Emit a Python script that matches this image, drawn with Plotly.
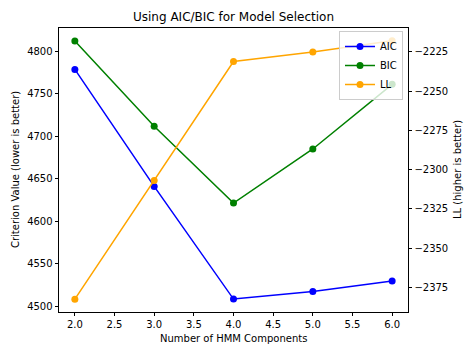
import plotly.graph_objects as go

components = [2, 3, 4, 5, 6]
aic_values = [4778.5, 4641, 4508.6, 4517.6, 4529.8]
bic_values = [4812, 4711.8, 4621.5, 4685, 4761]
ll_values = [-2382.6, -2307, -2231.1, -2225, -2217.9]

left_ticks = [4500, 4550, 4600, 4650, 4700, 4750, 4800]
right_ticks = [-2375, -2350, -2325, -2300, -2275, -2250, -2225]
x_ticks = [2.0, 2.5, 3.0, 3.5, 4.0, 4.5, 5.0, 5.5, 6.0]

FONT = "DejaVu Sans"
W, H = 474, 355
L, R, T, B = 59, 408, 28, 312
PW, PH = R - L, B - T


def px(xp):
    return (xp - L) / PW


def py(yp):
    return (B - yp) / PH


fig = go.Figure()
fig.add_trace(go.Scatter(x=components, y=aic_values, name="AIC", mode="lines+markers",
                         line=dict(color="blue", width=1.5), marker=dict(size=7, color="blue")))
fig.add_trace(go.Scatter(x=components, y=bic_values, name="BIC", mode="lines+markers",
                         line=dict(color="green", width=1.5), marker=dict(size=7, color="green")))
fig.add_trace(go.Scatter(x=components, y=ll_values, name="LL", mode="lines+markers", yaxis="y2",
                         line=dict(color="orange", width=1.5), marker=dict(size=7, color="orange")))

axis_common = dict(showline=True, linecolor="black", linewidth=0.8, ticks="outside", ticklen=3.5,
                   tickwidth=0.8, tickcolor="black", showgrid=False, zeroline=False,
                   tickfont=dict(family=FONT, size=10, color="black"))

fig.update_layout(
    width=W, height=H,
    margin=dict(l=L, r=W - R, t=T, b=H - B),
    paper_bgcolor="white", plot_bgcolor="white",
    font=dict(family=FONT, size=10, color="black"),
    xaxis=dict(**axis_common, range=[1.8, 6.2], tickvals=x_ticks, ticktext=[f"{v:.1f}" for v in x_ticks],
               mirror=True),
    yaxis=dict(**axis_common, range=[4493.4, 4827.2], tickvals=left_ticks, mirror=True),
    yaxis2=dict(**axis_common, range=[-2390.8, -2209.7], tickvals=right_ticks,
                ticktext=[f"\u2212{abs(v)}" for v in right_ticks],
                overlaying="y", side="right"),
    legend=dict(x=px(403), y=py(31), xanchor="right", yanchor="top", bgcolor="rgba(255,255,255,0.8)",
                bordercolor="#cccccc", borderwidth=1, font=dict(family=FONT, size=10),
                itemwidth=30, tracegroupgap=0),
    showlegend=True,
)

ann = dict(xref="paper", yref="paper", showarrow=False, xanchor="center", yanchor="middle",
           font=dict(family=FONT, size=10, color="black"))
fig.add_annotation(text="Using AIC/BIC for Model Selection", x=0.5, y=py(17),
                   **{**ann, "font": dict(family=FONT, size=12, color="black")})
fig.add_annotation(text="Number of HMM Components", x=0.5, y=py(338), **ann)
fig.add_annotation(text="Criterion Value (lower is better)", x=px(15), y=0.5, textangle=-90, **ann)
fig.add_annotation(text="LL (higher is better)", x=px(457), y=0.5, textangle=-90, **ann)

fig.write_html("out.html", config={"displayModeBar": False},
               post_script="document.body.style.margin='0';document.body.style.padding='0';")
